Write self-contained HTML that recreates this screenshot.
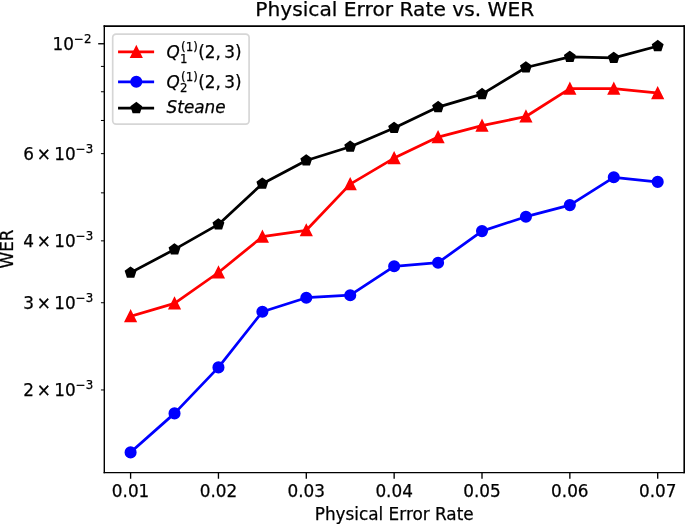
<!DOCTYPE html>
<html lang="en"><head><meta charset="utf-8"><title>Physical Error Rate vs. WER</title>
<style>html,body{margin:0;padding:0;background:#fff}body{width:685px;height:524px;overflow:hidden}svg{display:block}text{stroke:#000;stroke-width:.25px;stroke-linejoin:round}</style></head>
<body>
<svg width="685" height="524" viewBox="0 0 685 524" font-family="'DejaVu Sans', 'Liberation Sans', sans-serif" fill="#000">
<rect width="685" height="524" fill="#fff"/>
<defs><clipPath id="ax"><rect x="104.3" y="25.7" width="579.90" height="446.95"/></clipPath></defs>
<g clip-path="url(#ax)">
<polyline points="130.60,316.20 174.53,303.40 218.45,272.50 262.38,236.70 306.30,230.30 350.23,184.10 394.15,158.10 438.08,137.10 482.00,125.70 525.93,116.50 569.85,88.70 613.78,88.70 657.70,93.10" fill="none" stroke="#ff0000" stroke-width="2.750" stroke-linejoin="round" stroke-linecap="square"/>
<path d="M130.60 311.05L125.45 321.35L135.75 321.35Z" fill="#ff0000" stroke="#ff0000" stroke-width="1.800" stroke-linejoin="miter"/>
<path d="M174.53 298.25L169.38 308.55L179.68 308.55Z" fill="#ff0000" stroke="#ff0000" stroke-width="1.800" stroke-linejoin="miter"/>
<path d="M218.45 267.35L213.30 277.65L223.60 277.65Z" fill="#ff0000" stroke="#ff0000" stroke-width="1.800" stroke-linejoin="miter"/>
<path d="M262.38 231.55L257.23 241.85L267.52 241.85Z" fill="#ff0000" stroke="#ff0000" stroke-width="1.800" stroke-linejoin="miter"/>
<path d="M306.30 225.15L301.15 235.45L311.45 235.45Z" fill="#ff0000" stroke="#ff0000" stroke-width="1.800" stroke-linejoin="miter"/>
<path d="M350.23 178.95L345.08 189.25L355.38 189.25Z" fill="#ff0000" stroke="#ff0000" stroke-width="1.800" stroke-linejoin="miter"/>
<path d="M394.15 152.95L389.00 163.25L399.30 163.25Z" fill="#ff0000" stroke="#ff0000" stroke-width="1.800" stroke-linejoin="miter"/>
<path d="M438.08 131.95L432.93 142.25L443.23 142.25Z" fill="#ff0000" stroke="#ff0000" stroke-width="1.800" stroke-linejoin="miter"/>
<path d="M482.00 120.55L476.85 130.85L487.15 130.85Z" fill="#ff0000" stroke="#ff0000" stroke-width="1.800" stroke-linejoin="miter"/>
<path d="M525.93 111.35L520.78 121.65L531.08 121.65Z" fill="#ff0000" stroke="#ff0000" stroke-width="1.800" stroke-linejoin="miter"/>
<path d="M569.85 83.55L564.70 93.85L575.00 93.85Z" fill="#ff0000" stroke="#ff0000" stroke-width="1.800" stroke-linejoin="miter"/>
<path d="M613.78 83.55L608.63 93.85L618.93 93.85Z" fill="#ff0000" stroke="#ff0000" stroke-width="1.800" stroke-linejoin="miter"/>
<path d="M657.70 87.95L652.55 98.25L662.85 98.25Z" fill="#ff0000" stroke="#ff0000" stroke-width="1.800" stroke-linejoin="miter"/>
<polyline points="130.60,452.40 174.53,413.40 218.45,367.40 262.38,311.80 306.30,297.70 350.23,295.20 394.15,266.30 438.08,262.70 482.00,231.10 525.93,216.70 569.85,205.10 613.78,177.30 657.70,181.90" fill="none" stroke="#0000ff" stroke-width="2.750" stroke-linejoin="round" stroke-linecap="square"/>
<circle cx="130.60" cy="452.40" r="5.150" fill="#0000ff" stroke="#0000ff" stroke-width="1.800"/>
<circle cx="174.53" cy="413.40" r="5.150" fill="#0000ff" stroke="#0000ff" stroke-width="1.800"/>
<circle cx="218.45" cy="367.40" r="5.150" fill="#0000ff" stroke="#0000ff" stroke-width="1.800"/>
<circle cx="262.38" cy="311.80" r="5.150" fill="#0000ff" stroke="#0000ff" stroke-width="1.800"/>
<circle cx="306.30" cy="297.70" r="5.150" fill="#0000ff" stroke="#0000ff" stroke-width="1.800"/>
<circle cx="350.23" cy="295.20" r="5.150" fill="#0000ff" stroke="#0000ff" stroke-width="1.800"/>
<circle cx="394.15" cy="266.30" r="5.150" fill="#0000ff" stroke="#0000ff" stroke-width="1.800"/>
<circle cx="438.08" cy="262.70" r="5.150" fill="#0000ff" stroke="#0000ff" stroke-width="1.800"/>
<circle cx="482.00" cy="231.10" r="5.150" fill="#0000ff" stroke="#0000ff" stroke-width="1.800"/>
<circle cx="525.93" cy="216.70" r="5.150" fill="#0000ff" stroke="#0000ff" stroke-width="1.800"/>
<circle cx="569.85" cy="205.10" r="5.150" fill="#0000ff" stroke="#0000ff" stroke-width="1.800"/>
<circle cx="613.78" cy="177.30" r="5.150" fill="#0000ff" stroke="#0000ff" stroke-width="1.800"/>
<circle cx="657.70" cy="181.90" r="5.150" fill="#0000ff" stroke="#0000ff" stroke-width="1.800"/>
<polyline points="130.60,272.70 174.53,249.40 218.45,224.40 262.38,183.70 306.30,160.50 350.23,146.70 394.15,128.00 438.08,107.10 482.00,94.10 525.93,67.50 569.85,56.90 613.78,57.90 657.70,46.10" fill="none" stroke="#000000" stroke-width="2.750" stroke-linejoin="round" stroke-linecap="square"/>
<path d="M130.60 267.55L125.70 271.11L127.57 276.87L133.63 276.87L135.50 271.11Z" fill="#000000" stroke="#000000" stroke-width="1.800" stroke-linejoin="miter"/>
<path d="M174.53 244.25L169.63 247.81L171.50 253.57L177.55 253.57L179.42 247.81Z" fill="#000000" stroke="#000000" stroke-width="1.800" stroke-linejoin="miter"/>
<path d="M218.45 219.25L213.55 222.81L215.42 228.57L221.48 228.57L223.35 222.81Z" fill="#000000" stroke="#000000" stroke-width="1.800" stroke-linejoin="miter"/>
<path d="M262.38 178.55L257.48 182.11L259.35 187.87L265.40 187.87L267.27 182.11Z" fill="#000000" stroke="#000000" stroke-width="1.800" stroke-linejoin="miter"/>
<path d="M306.30 155.35L301.40 158.91L303.27 164.67L309.33 164.67L311.20 158.91Z" fill="#000000" stroke="#000000" stroke-width="1.800" stroke-linejoin="miter"/>
<path d="M350.23 141.55L345.33 145.11L347.20 150.87L353.25 150.87L355.12 145.11Z" fill="#000000" stroke="#000000" stroke-width="1.800" stroke-linejoin="miter"/>
<path d="M394.15 122.85L389.25 126.41L391.12 132.17L397.18 132.17L399.05 126.41Z" fill="#000000" stroke="#000000" stroke-width="1.800" stroke-linejoin="miter"/>
<path d="M438.08 101.95L433.18 105.51L435.05 111.27L441.10 111.27L442.97 105.51Z" fill="#000000" stroke="#000000" stroke-width="1.800" stroke-linejoin="miter"/>
<path d="M482.00 88.95L477.10 92.51L478.97 98.27L485.03 98.27L486.90 92.51Z" fill="#000000" stroke="#000000" stroke-width="1.800" stroke-linejoin="miter"/>
<path d="M525.93 62.35L521.03 65.91L522.90 71.67L528.95 71.67L530.82 65.91Z" fill="#000000" stroke="#000000" stroke-width="1.800" stroke-linejoin="miter"/>
<path d="M569.85 51.75L564.95 55.31L566.82 61.07L572.88 61.07L574.75 55.31Z" fill="#000000" stroke="#000000" stroke-width="1.800" stroke-linejoin="miter"/>
<path d="M613.78 52.75L608.88 56.31L610.75 62.07L616.80 62.07L618.67 56.31Z" fill="#000000" stroke="#000000" stroke-width="1.800" stroke-linejoin="miter"/>
<path d="M657.70 40.95L652.80 44.51L654.67 50.27L660.73 50.27L662.60 44.51Z" fill="#000000" stroke="#000000" stroke-width="1.800" stroke-linejoin="miter"/>
</g>
<path d="M103.6 472.65H684.2" stroke="#000" stroke-width="1.4" fill="none"/>
<path d="M103.6 26.0H684.2" stroke="#000" stroke-width="1.75" fill="none"/>
<path d="M104.3 25.2V473.34999999999997" stroke="#000" stroke-width="1.4" fill="none"/>
<rect x="683.4" y="25.13" width="1.6" height="448.22" fill="#000"/>
<path d="M130.60 472.65v6.10" stroke="#000" stroke-width="1.348"/>
<text x="130.60" y="497.3" font-size="16.85" text-anchor="middle">0.01</text>
<path d="M218.45 472.65v6.10" stroke="#000" stroke-width="1.348"/>
<text x="218.45" y="497.3" font-size="16.85" text-anchor="middle">0.02</text>
<path d="M306.30 472.65v6.10" stroke="#000" stroke-width="1.348"/>
<text x="306.30" y="497.3" font-size="16.85" text-anchor="middle">0.03</text>
<path d="M394.15 472.65v6.10" stroke="#000" stroke-width="1.348"/>
<text x="394.15" y="497.3" font-size="16.85" text-anchor="middle">0.04</text>
<path d="M482.00 472.65v6.10" stroke="#000" stroke-width="1.348"/>
<text x="482.00" y="497.3" font-size="16.85" text-anchor="middle">0.05</text>
<path d="M569.85 472.65v6.10" stroke="#000" stroke-width="1.348"/>
<text x="569.85" y="497.3" font-size="16.85" text-anchor="middle">0.06</text>
<path d="M657.70 472.65v6.10" stroke="#000" stroke-width="1.348"/>
<text x="657.70" y="497.3" font-size="16.85" text-anchor="middle">0.07</text>
<text x="394.2" y="520.0" font-size="16.85" text-anchor="middle">Physical Error Rate</text>
<text x="394.8" y="15.6" font-size="20.22" text-anchor="middle">Physical Error Rate vs. WER</text>
<text transform="translate(13.4 248.95) rotate(-90)" font-size="16.85" text-anchor="middle">WER</text>
<path d="M104.3 43.75h-6.10" stroke="#000" stroke-width="1.348"/>
<text><tspan x="52.45" y="49.80" font-size="16.85">10</tspan><tspan x="74.05" y="43.09" font-size="11.79">−</tspan><tspan x="83.94" y="43.09" font-size="11.79">2</tspan></text>
<path d="M104.3 389.95h-3.37" stroke="#000" stroke-width="1.011"/>
<text><tspan x="23.23" y="396.00" font-size="16.85">2</tspan><tspan x="36.83" y="396.00" font-size="16.85">×</tspan><tspan x="54.24" y="396.00" font-size="16.85">10</tspan><tspan x="75.84" y="389.29" font-size="11.79">−</tspan><tspan x="85.72" y="389.29" font-size="11.79">3</tspan></text>
<path d="M104.3 302.73h-3.37" stroke="#000" stroke-width="1.011"/>
<text><tspan x="23.23" y="308.78" font-size="16.85">3</tspan><tspan x="36.83" y="308.78" font-size="16.85">×</tspan><tspan x="54.24" y="308.78" font-size="16.85">10</tspan><tspan x="75.84" y="302.08" font-size="11.79">−</tspan><tspan x="85.72" y="302.08" font-size="11.79">3</tspan></text>
<path d="M104.3 240.85h-3.37" stroke="#000" stroke-width="1.011"/>
<text><tspan x="23.23" y="246.90" font-size="16.85">4</tspan><tspan x="36.83" y="246.90" font-size="16.85">×</tspan><tspan x="54.24" y="246.90" font-size="16.85">10</tspan><tspan x="75.84" y="240.19" font-size="11.79">−</tspan><tspan x="85.72" y="240.19" font-size="11.79">3</tspan></text>
<path d="M104.3 192.85h-3.37" stroke="#000" stroke-width="1.011"/>
<path d="M104.3 153.63h-3.37" stroke="#000" stroke-width="1.011"/>
<text><tspan x="23.23" y="159.68" font-size="16.85">6</tspan><tspan x="36.83" y="159.68" font-size="16.85">×</tspan><tspan x="54.24" y="159.68" font-size="16.85">10</tspan><tspan x="75.84" y="152.98" font-size="11.79">−</tspan><tspan x="85.72" y="152.98" font-size="11.79">3</tspan></text>
<path d="M104.3 120.47h-3.37" stroke="#000" stroke-width="1.011"/>
<path d="M104.3 91.75h-3.37" stroke="#000" stroke-width="1.011"/>
<path d="M104.3 66.41h-3.37" stroke="#000" stroke-width="1.011"/>
<rect x="112.7" y="34.1" width="136.4" height="90.0" rx="3.37" fill="#fff" fill-opacity="0.8" stroke="#ccc" stroke-opacity="0.8" stroke-width="1.685"/>
<path d="M119.44 51.95H152.74" stroke="#ff0000" stroke-width="2.750" stroke-linecap="square"/>
<path d="M136.29 46.80L131.14 57.10L141.44 57.10Z" fill="#ff0000" stroke="#ff0000" stroke-width="1.800" stroke-linejoin="miter"/>
<text><tspan x="166.62" y="58.20" font-size="16.85" font-style="oblique">Q</tspan><tspan x="179.88" y="62.50" font-size="11.79">1</tspan><tspan x="181.10" y="51.12" font-size="11.79">(</tspan><tspan x="185.70" y="51.12" font-size="11.79">1</tspan><tspan x="193.20" y="51.12" font-size="11.79">)</tspan><tspan x="198.26" y="58.20" font-size="16.85">(</tspan><tspan x="204.84" y="58.20" font-size="16.85">2</tspan><tspan x="215.56" y="58.20" font-size="16.85">,</tspan><tspan x="224.20" y="58.20" font-size="16.85">3</tspan><tspan x="234.92" y="58.20" font-size="16.85">)</tspan></text>
<path d="M119.44 81.75H152.74" stroke="#0000ff" stroke-width="2.750" stroke-linecap="square"/>
<circle cx="136.29" cy="81.75" r="5.150" fill="#0000ff" stroke="#0000ff" stroke-width="1.800"/>
<text><tspan x="166.62" y="88.10" font-size="16.85" font-style="oblique">Q</tspan><tspan x="179.88" y="92.40" font-size="11.79">2</tspan><tspan x="181.10" y="81.02" font-size="11.79">(</tspan><tspan x="185.70" y="81.02" font-size="11.79">1</tspan><tspan x="193.20" y="81.02" font-size="11.79">)</tspan><tspan x="198.26" y="88.10" font-size="16.85">(</tspan><tspan x="204.84" y="88.10" font-size="16.85">2</tspan><tspan x="215.56" y="88.10" font-size="16.85">,</tspan><tspan x="224.20" y="88.10" font-size="16.85">3</tspan><tspan x="234.92" y="88.10" font-size="16.85">)</tspan></text>
<path d="M119.44 108.1H152.74" stroke="#000000" stroke-width="2.750" stroke-linecap="square"/>
<path d="M136.29 102.95L131.39 106.51L133.26 112.27L139.32 112.27L141.19 106.51Z" fill="#000000" stroke="#000000" stroke-width="1.800" stroke-linejoin="miter"/>
<text><tspan x="166.62" y="113.40" font-size="16.85" font-style="oblique">Steane</tspan></text>
</svg>
</body></html>
